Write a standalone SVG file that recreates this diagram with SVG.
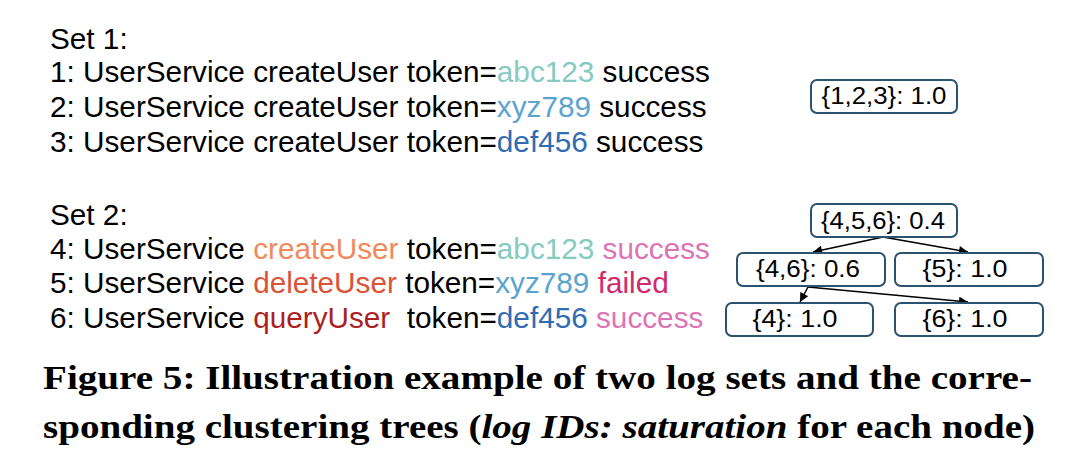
<svg xmlns="http://www.w3.org/2000/svg" width="1080" height="471" viewBox="0 0 1080 471">
<defs>
<style>
.log{font-family:"Liberation Sans",Arial,sans-serif;font-size:29px;fill:#000;white-space:pre}
.t1{fill:#86cbbf}.t2{fill:#5ba4d0}.t3{fill:#2f6cb3}
.m1{fill:#f08a5d}.m2{fill:#dc5337}.m3{fill:#ad1f1f}
.ok{fill:#dd74b6}.fail{fill:#d02a6c}
.box{fill:#fff;stroke:#2b5370;stroke-width:2}
.lbl{font-family:"Liberation Sans",Arial,sans-serif;font-size:23px;fill:#000;text-anchor:middle}
.edge{stroke:#000;stroke-width:1.5;fill:none;marker-end:url(#ah)}
.cap{font-family:"Liberation Serif","Times New Roman",serif;font-size:33px;font-weight:bold;fill:#000}
.it{font-style:italic}
</style>
<marker id="ah" viewBox="0 0 10 10" refX="10" refY="5" markerWidth="13" markerHeight="9" markerUnits="userSpaceOnUse" orient="auto">
<path d="M0,0 L10,5 L0,10 z" fill="#000"/>
</marker>
</defs>
<rect width="1080" height="471" fill="#fff"/>
<g id="logs" transform="matrix(1.025 0 0 1 50 0)">
<text class="log" x="0" y="49">Set 1:</text>
<text class="log" x="0" y="82">1: UserService createUser token=<tspan class="t1">abc123</tspan> success</text>
<text class="log" x="0" y="117">2: UserService createUser token=<tspan class="t2">xyz789</tspan> success</text>
<text class="log" x="0" y="152">3: UserService createUser token=<tspan class="t3">def456</tspan> success</text>
<text class="log" x="0" y="225">Set 2:</text>
<text class="log" x="0" y="259">4: UserService <tspan class="m1">createUser</tspan> token=<tspan class="t1">abc123</tspan> <tspan class="ok">success</tspan></text>
<text class="log" x="0" y="293">5: UserService <tspan class="m2">deleteUser</tspan> token=<tspan class="t2">xyz789</tspan> <tspan class="fail">failed</tspan></text>
<text class="log" x="0" y="328">6: UserService <tspan class="m3">queryUser</tspan>  token=<tspan class="t3">def456</tspan> <tspan class="ok">success</tspan></text>
</g>
<g id="connectors">
<line class="edge" x1="883" y1="237" x2="813" y2="252"/>
<line class="edge" x1="883" y1="237" x2="968" y2="252"/>
<line class="edge" x1="808" y1="287" x2="800" y2="302"/>
<line class="edge" x1="808" y1="287" x2="968" y2="302"/>
</g>
<g id="n123"><rect class="box" x="811" y="80" width="146" height="33" rx="6"/><text class="lbl" x="884" y="104" textLength="125" lengthAdjust="spacingAndGlyphs">{1,2,3}: 1.0</text></g>
<g id="n456"><rect class="box" x="811" y="204" width="146" height="33" rx="6"/><text class="lbl" x="883" y="229" textLength="124" lengthAdjust="spacingAndGlyphs">{4,5,6}: 0.4</text></g>
<g id="n46"><rect class="box" x="737" y="253" width="148" height="33" rx="6"/><text class="lbl" x="808" y="277" textLength="104" lengthAdjust="spacingAndGlyphs">{4,6}: 0.6</text></g>
<g id="n5"><rect class="box" x="895" y="253" width="148" height="33" rx="6"/><text class="lbl" x="965" y="277" textLength="85" lengthAdjust="spacingAndGlyphs">{5}: 1.0</text></g>
<g id="n4"><rect class="box" x="726" y="303" width="147" height="33" rx="6"/><text class="lbl" x="795" y="327" textLength="85" lengthAdjust="spacingAndGlyphs">{4}: 1.0</text></g>
<g id="n6"><rect class="box" x="895" y="303" width="148" height="33" rx="6"/><text class="lbl" x="965" y="327" textLength="85" lengthAdjust="spacingAndGlyphs">{6}: 1.0</text></g>
<g id="caption">
<text class="cap" x="43" y="389" textLength="989" lengthAdjust="spacingAndGlyphs">Figure 5: Illustration example of two log sets and the corre-</text>
<text class="cap" x="43" y="438" textLength="992" lengthAdjust="spacingAndGlyphs">sponding clustering trees (<tspan class="it">log IDs: saturation</tspan> for each node)</text>
</g>
</svg>
